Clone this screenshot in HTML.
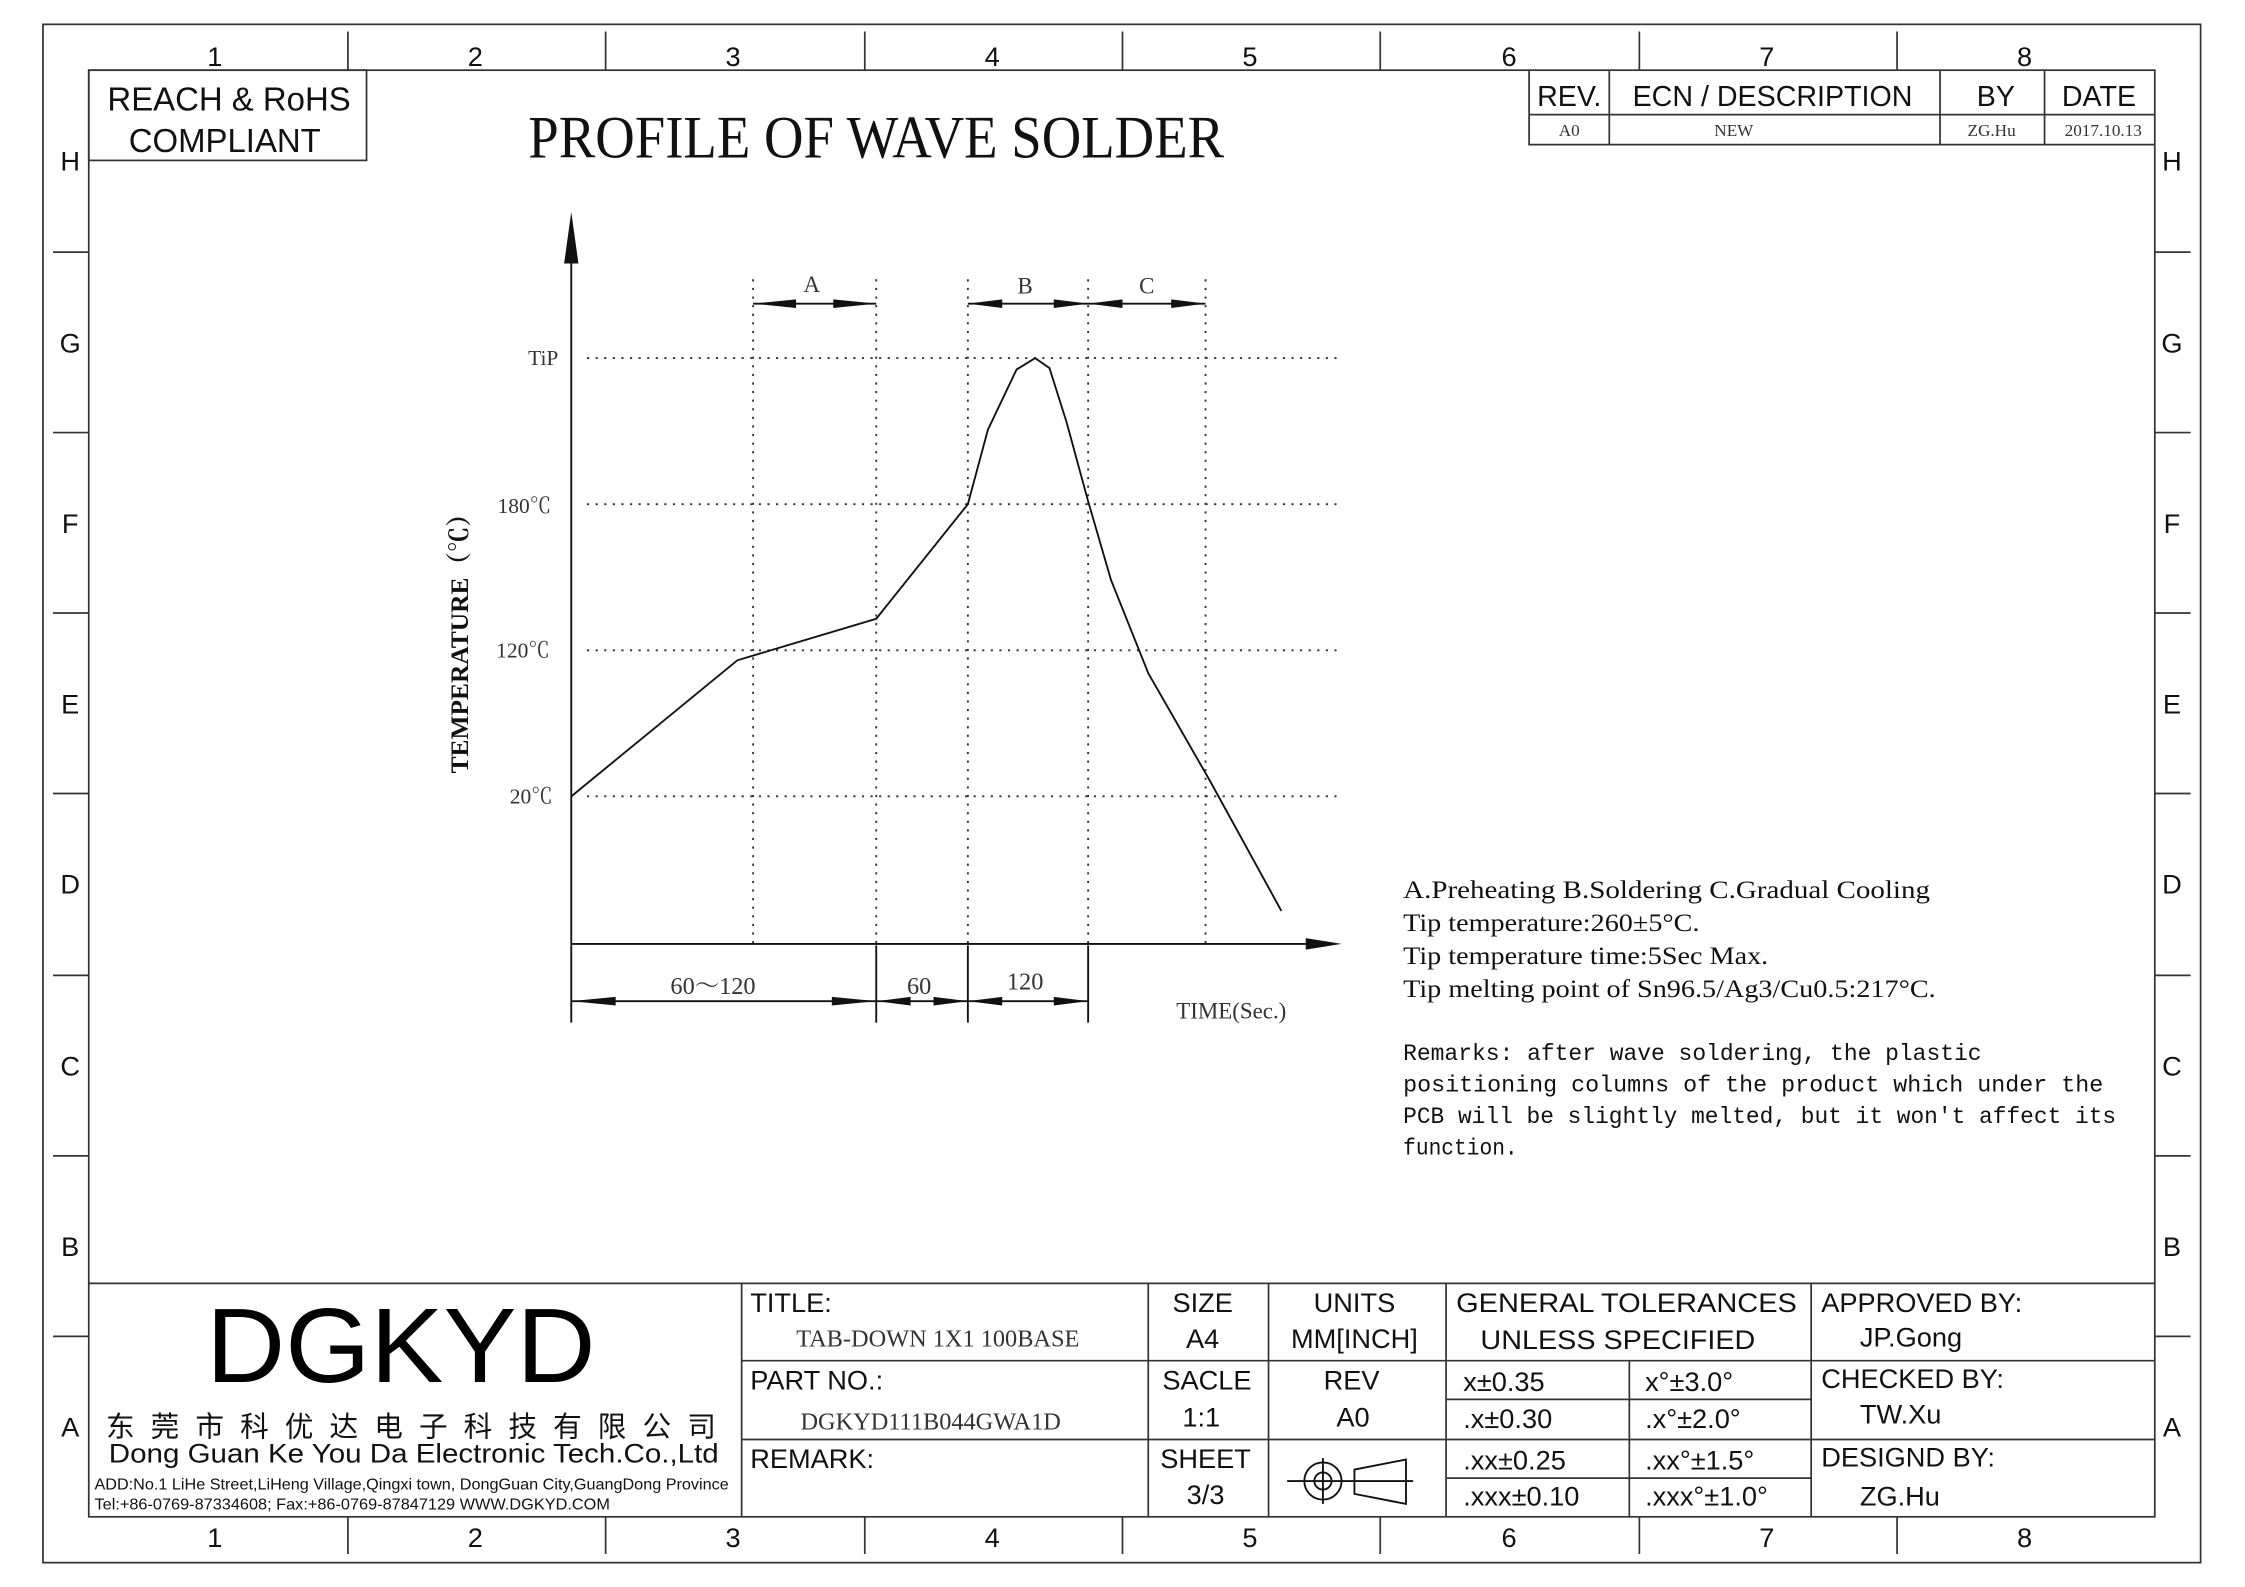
<!DOCTYPE html>
<html><head><meta charset="utf-8"><style>
html,body{margin:0;padding:0;background:#fff;}
svg{display:block;}
.s{font-family:"Liberation Sans","Noto Sans CJK SC",sans-serif;}
.r{font-family:"Liberation Serif","Noto Serif CJK SC",serif;}
.m{font-family:"Liberation Mono","DejaVu Sans Mono",monospace;}
</style></head><body>
<svg width="2245" height="1587" viewBox="0 0 1568 1108" preserveAspectRatio="none" xmlns="http://www.w3.org/2000/svg">
<rect width="1568" height="1108" fill="#fff"/>
<g stroke="#333" fill="none" stroke-width="1.2">
<rect x="30" y="17" width="1507" height="1074"/>
<rect x="62" y="49" width="1443" height="1010"/>
<path d="M243 22V49M423 22V49M604 22V49M784 22V49M964 22V49M1145 22V49M1325 22V49"/>
<path d="M243 1059V1085M423 1059V1085M604 1059V1085M784 1059V1085M964 1059V1085M1145 1059V1085M1325 1059V1085"/>
<path d="M37 176H62M37 302H62M37 428H62M37 554H62M37 681H62M37 807H62M37 933H62"/>
<path d="M1505 176H1530M1505 302H1530M1505 428H1530M1505 554H1530M1505 681H1530M1505 807H1530M1505 933H1530"/>
<rect x="62" y="49" width="194" height="63"/>
<path d="M1068 49V101H1505M1068 80H1505M1124 49V101M1355 49V101M1428 49V101"/>
<path d="M62 896H1505M518 896V1059M802 896V1059M886 896V1059M1010 896V1059M1265 896V1059M518 950H1505M518 1005H1505M1138 950V1059M1010 977H1265M1010 1032H1265"/>
</g>
<g class="s" font-size="19" fill="#111" text-anchor="middle">
<text x="150" y="46">1</text><text x="332" y="46">2</text><text x="512" y="46">3</text><text x="693" y="46">4</text><text x="873" y="46">5</text><text x="1054" y="46">6</text><text x="1234" y="46">7</text><text x="1414" y="46">8</text>
<text x="150" y="1080">1</text><text x="332" y="1080">2</text><text x="512" y="1080">3</text><text x="693" y="1080">4</text><text x="873" y="1080">5</text><text x="1054" y="1080">6</text><text x="1234" y="1080">7</text><text x="1414" y="1080">8</text>
<text x="49" y="119">H</text><text x="49" y="246">G</text><text x="49" y="372">F</text><text x="49" y="498">E</text><text x="49" y="624">D</text><text x="49" y="751">C</text><text x="49" y="877">B</text><text x="49" y="1003">A</text>
<text x="1517" y="119">H</text><text x="1517" y="246">G</text><text x="1517" y="372">F</text><text x="1517" y="498">E</text><text x="1517" y="624">D</text><text x="1517" y="751">C</text><text x="1517" y="877">B</text><text x="1517" y="1003">A</text>
<text x="160" y="77" font-size="23">REACH &amp; RoHS</text>
<text x="157" y="106" font-size="23">COMPLIANT</text>
<text x="1096" y="74" font-size="20">REV.</text><text x="1238" y="74" font-size="20">ECN / DESCRIPTION</text><text x="1394" y="74" font-size="20">BY</text><text x="1466" y="74" font-size="20">DATE</text>
</g>
<g class="r" font-size="12" fill="#333" text-anchor="middle">
<text x="1096" y="95">A0</text><text x="1211" y="95">NEW</text><text x="1391" y="95">ZG.Hu</text><text x="1469" y="95">2017.10.13</text>
</g>
<text class="r" x="612" y="110" font-size="42" text-anchor="middle" textLength="486" lengthAdjust="spacingAndGlyphs" fill="#111">PROFILE OF WAVE SOLDER</text>

<g stroke="#333" stroke-width="1.3" stroke-dasharray="1.5 4.5" fill="none">
<path d="M410 250H935M410 352H935M410 454H935M410 556H935"/>
<path d="M526 195V660M612 195V660M676 195V660M760 195V660M842 195V660"/>
</g>
<g stroke="#111" stroke-width="1.3" fill="none">
<path d="M399 660V170M399 659H915"/>
<polyline points="399,556 515,461 612,432 676,352 690,300 710,258 723,250 733,257 745,295 760,350 776,405 802,470 845,545 895,636"/>
<path d="M526 212H612M676 212H760M760 212H842M399 699H760M399 660V714M612 660V714M676 660V714M760 660V714"/>
</g>
<g fill="#111">
<polygon points="399,148 394,184 404,184"/>
<polygon points="937,659 912,655 912,663"/>
<polygon points="526,212 556,209 556,215"/><polygon points="612,212 582,209 582,215"/>
<polygon points="676,212 700,209 700,215"/><polygon points="760,212 736,209 736,215"/>
<polygon points="760,212 784,209 784,215"/><polygon points="842,212 818,209 818,215"/>
<polygon points="399,699 430,696 430,702"/><polygon points="612,699 581,696 581,702"/>
<polygon points="612,699 636,696 636,702"/><polygon points="676,699 652,696 652,702"/>
<polygon points="676,699 700,696 700,702"/><polygon points="760,699 736,696 736,702"/>
</g>
<g class="r" font-size="15" fill="#333">
<text x="390" y="255" text-anchor="end">TiP</text>
<text x="385" y="358" text-anchor="end">180℃</text>
<text x="384" y="459" text-anchor="end">120℃</text>
<text x="386" y="561" text-anchor="end">20℃</text>
<text x="567" y="204" text-anchor="middle" font-size="16">A</text>
<text x="716" y="205" text-anchor="middle" font-size="16">B</text>
<text x="801" y="205" text-anchor="middle" font-size="16">C</text>
<text x="498" y="694" text-anchor="middle" font-size="17">60～120</text>
<text x="642" y="694" text-anchor="middle" font-size="17">60</text>
<text x="716" y="691" text-anchor="middle" font-size="17">120</text>
<text x="860" y="711" text-anchor="middle" font-size="16">TIME(Sec.)</text>
<text transform="translate(327,445) rotate(-90)" text-anchor="middle" font-size="18" font-weight="bold" fill="#111" textLength="190" lengthAdjust="spacingAndGlyphs">TEMPERATURE（℃）</text>
</g>
<g class="r" font-size="18" fill="#111">
<text x="980" y="627" textLength="368" lengthAdjust="spacingAndGlyphs">A.Preheating  B.Soldering  C.Gradual Cooling</text>
<text x="980" y="650" textLength="207" lengthAdjust="spacingAndGlyphs">Tip temperature:260±5°C.</text>
<text x="980" y="673" textLength="255" lengthAdjust="spacingAndGlyphs">Tip temperature time:5Sec Max.</text>
<text x="980" y="696" textLength="372" lengthAdjust="spacingAndGlyphs">Tip melting point of Sn96.5/Ag3/Cu0.5:217°C.</text>
</g>
<g class="m" font-size="16" fill="#111" style="white-space:pre">
<text x="980" y="740" textLength="404" lengthAdjust="spacingAndGlyphs">Remarks: after wave soldering, the plastic</text>
<text x="980" y="762" textLength="489" lengthAdjust="spacingAndGlyphs">positioning columns of the product  which under the</text>
<text x="980" y="784" textLength="498" lengthAdjust="spacingAndGlyphs">PCB will be slightly melted, but it won't affect its</text>
<text x="980" y="806" textLength="80" lengthAdjust="spacingAndGlyphs">function.</text>
</g>

<text class="s" x="280" y="965" font-size="74" text-anchor="middle" textLength="272" lengthAdjust="spacingAndGlyphs" fill="#000">DGKYD</text>
<text class="s" x="74" y="1003" font-size="20" textLength="426" lengthAdjust="spacing" fill="#111">东莞市科优达电子科技有限公司</text>
<text class="s" x="76" y="1021" font-size="19" textLength="426" lengthAdjust="spacingAndGlyphs" fill="#111">Dong Guan Ke You Da Electronic Tech.Co.,Ltd</text>
<text class="s" x="66" y="1040" font-size="11" textLength="443" lengthAdjust="spacingAndGlyphs" fill="#111">ADD:No.1 LiHe Street,LiHeng Village,Qingxi town, DongGuan City,GuangDong Province</text>
<text class="s" x="66" y="1054" font-size="11" textLength="360" lengthAdjust="spacingAndGlyphs" fill="#111">Tel:+86-0769-87334608; Fax:+86-0769-87847129  WWW.DGKYD.COM</text>
<g class="s" font-size="19" fill="#111">
<text x="524" y="916">TITLE:</text>
<text x="524" y="970">PART NO.:</text>
<text x="524" y="1025">REMARK:</text>
<text x="1017" y="916" textLength="238" lengthAdjust="spacingAndGlyphs">GENERAL TOLERANCES</text>
<text x="1034" y="942" textLength="192" lengthAdjust="spacingAndGlyphs">UNLESS SPECIFIED</text>
<text x="1272" y="916">APPROVED BY:</text>
<text x="1299" y="940">JP.Gong</text>
<text x="1272" y="969">CHECKED BY:</text>
<text x="1299" y="994">TW.Xu</text>
<text x="1272" y="1024">DESIGND BY:</text>
<text x="1299" y="1051">ZG.Hu</text>
<text x="1022" y="971">x±0.35</text><text x="1149" y="971">x°±3.0°</text>
<text x="1022" y="997">.x±0.30</text><text x="1149" y="997">.x°±2.0°</text>
<text x="1022" y="1026">.xx±0.25</text><text x="1149" y="1026">.xx°±1.5°</text>
<text x="1022" y="1051">.xxx±0.10</text><text x="1149" y="1051">.xxx°±1.0°</text>
<g text-anchor="middle">
<text x="840" y="916">SIZE</text><text x="840" y="941">A4</text>
<text x="843" y="970">SACLE</text><text x="839" y="996">1:1</text>
<text x="842" y="1025">SHEET</text><text x="842" y="1050">3/3</text>
<text x="946" y="916">UNITS</text><text x="946" y="941">MM[INCH]</text>
<text x="944" y="970">REV</text><text x="945" y="996">A0</text>
</g>
</g>
<g class="r" font-size="17" fill="#333" text-anchor="middle">
<text x="655" y="940">TAB-DOWN 1X1 100BASE</text>
<text x="650" y="998">DGKYD111B044GWA1D</text>
</g>
<g stroke="#111" stroke-width="1.3" fill="none">
<circle cx="924" cy="1034" r="13"/><circle cx="924" cy="1034" r="6"/>
<path d="M899 1034H987M924 1018V1050M946 1026L982 1019V1050L946 1043Z"/>
</g>
</svg>
</body></html>
